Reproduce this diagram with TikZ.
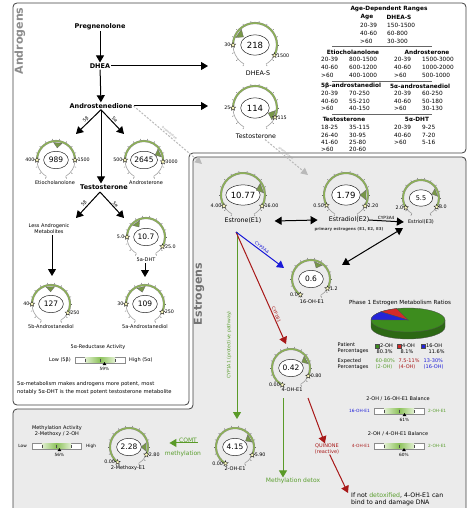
\documentclass[tikz,border=0pt]{standalone}
\usepackage{fontspec}
\setmainfont{DejaVu Sans}
\usetikzlibrary{arrows.meta,shapes.geometric,positioning}

\definecolor{ringgreen}{HTML}{8DB255}
\definecolor{arrowgreen}{HTML}{5A9A28}
\definecolor{txtgreen}{HTML}{5A9E2E}
\definecolor{dred}{HTML}{A81818}
\definecolor{dblue}{HTML}{1A1AD8}
\definecolor{estbg}{HTML}{EBEBEB}
\definecolor{piegreen}{HTML}{3D8C1E}
\definecolor{piegreenside}{HTML}{2C6814}
\definecolor{piered}{HTML}{D42A2A}
\definecolor{pieblue}{HTML}{2424D8}
\definecolor{barlt}{HTML}{E2F0D2}
\definecolor{bardk}{HTML}{8CC25A}

\tikzset{%
  flow/.style={-{Triangle[length=7pt,width=8pt]}, line width=1pt},
  dflow/.style={{Triangle[length=7pt,width=8pt]}-{Triangle[length=7pt,width=8pt]}, line width=1pt},
  gflow/.style={flow, draw=arrowgreen},
  rflow/.style={flow, draw=dred},
  bflow/.style={flow, draw=dblue},
  arom/.style={-{Triangle[length=7pt,width=7pt]}, line width=1pt, gray!55, dash pattern=on 2pt off 1.5pt},
  aromlbl/.style={font=\fontsize{3.5}{4}\selectfont, text=gray!70, inner sep=1pt},
  boxline/.style={draw=black!75, line width=0.8pt, rounded corners=4pt},
  panel/.style={font=\bfseries\fontsize{11}{12}\selectfont, text=black!45, rotate=90},
  hd/.style={font=\bfseries\fontsize{6.5}{7}\selectfont, inner sep=1pt},
  glabel/.style={font=\fontsize{6.3}{7}\selectfont, inner sep=1pt},
  slabel/.style={font=\fontsize{5}{6}\selectfont, inner sep=1pt},
  fanlbl/.style={font=\fontsize{4.5}{5}\selectfont, inner sep=1pt},
  minmax/.style={font=\fontsize{4.8}{5}\selectfont, inner sep=0.5pt},
  tbl/.style={font=\fontsize{5.8}{6}\selectfont, anchor=west, inner sep=0pt},
  tblhd/.style={font=\bfseries\fontsize{5.8}{6}\selectfont, inner sep=0pt},
  tblrule/.style={draw=black!60, line width=0.5pt},
  lgd/.style={font=\fontsize{5}{6}\selectfont, inner sep=0.5pt},
  cyp/.style={font=\fontsize{4.3}{5}\selectfont, inner sep=1pt},
  gtxt/.style={font=\fontsize{6}{7}\selectfont, text=txtgreen, inner sep=0.5pt},
  note/.style={font=\fontsize{5.2}{8.5}\selectfont, inner sep=0pt},
  ring/.style={draw=black!45, double=ringgreen, double distance=1.4pt, line width=0.35pt},
  ringtail/.style={draw=gray!75, line width=0.6pt},
  ringtick/.style={draw=black!60, line width=0.45pt},
  ptr/.style={fill=ringgreen!85!black, draw=black!60, line width=0.3pt},
  mstar/.style={star, star points=5, star point ratio=2.3, draw=black!85, fill=yellow!25, line width=0.35pt, inner sep=0pt, minimum size=5.5pt},
  val/.style={ellipse, draw=black!85, fill=white, line width=0.5pt, inner sep=0pt},
  gauge val/.style={font=\fontsize{7.5}{8}\selectfont},
  bigval/.style={gauge val/.style={font=\fontsize{8.5}{9}\selectfont}},
  smallval/.style={gauge val/.style={font=\fontsize{6.5}{7}\selectfont}},
  sq/.style={draw=black!70, line width=0.3pt, minimum size=4.5pt, inner sep=0pt},
  % value, min, max, min angle, max angle, pointer angle, radius
  pics/gauge/.style n args={7}{code={
    \draw[ringtail] (240:#7) arc[start angle=240, end angle=-60, radius=#7];
    \foreach \a in {240,220,...,-60}
      \draw[ringtick] (\a:#7+0.8pt) -- (\a:#7+2.3pt);
    \draw[ring] (#4:#7) arc[start angle=#4, end angle=#5, radius=#7];
    \node[val, gauge val, minimum width=1.3*#7, minimum height=0.92*#7] (-v) at (0,0) {#1};
    \filldraw[ptr] (#6:0.64*#7) -- ({#6+14}:#7-1.3pt) -- ({#6-14}:#7-1.3pt) -- cycle;
    \node[mstar] (-mn) at (#4:#7) {};
    \node[minmax, anchor=east] (-lo) at (-mn.west) {#2};
    \node[mstar] (-mx) at (#5:#7) {};
    \node[minmax, anchor=west] (-hi) at (-mx.east) {#3};
  }},
  % width, fraction, percent
  pics/actbar/.style n args={3}{code={
    \draw[black!45, line width=0.4pt, fill=white] (0,-3) rectangle (#1,3);
    \shade[left color=barlt, right color=barlt, middle color=bardk] (0.2*#1,-2.6) rectangle (0.8*#1,2.6);
    \foreach \t in {0.2,0.5,0.8}
      \draw[black!70, line width=0.4pt] (\t*#1,-1.5) -- (\t*#1,1.5);
    \fill (#2*#1,2) -- ++(-2,3.2) -- ++(4,0) -- cycle;
    \node[font=\fontsize{4.3}{5}\selectfont, inner sep=0pt] (-p) at (#2*#1,8.5) {#3};
  }}
}

\begin{document}
\begin{tikzpicture}[x=1pt, y=-1pt]
    \useasboundingbox (0,0) rectangle (474,508);

    % panels
    \draw[boxline, fill=white] (13,3) -- (466,3) -- (466,153) -- (189,153) -- (189,405) -- (13,405) -- cycle;
    \draw[boxline, fill=estbg] (193,157) -- (466,157) -- (466,520) -- (13,520) -- (13,409) -- (193,409) -- cycle;
    \node[panel] (andlbl) at (20,41) {Androgens};
    \node[panel, text=black!55] (estlbl) at (199,294) {Estrogens};

    % androgen pathway
    \node[hd] (preg) at (100,27) {Pregnenolone};
    \node[hd] (dhea) at (100,66) {DHEA};
    \node[hd] (adione) at (101,106) {Androstenedione};
    \node[hd] (testost) at (104,187) {Testosterone};
    \coordinate (dheasin) at (208,66);
    \coordinate (testoin) at (208,106);
    \coordinate (etiotip) at (76,134);
    \coordinate (androtip) at (124,134);
    \coordinate (tfan) at (100,192);
    \coordinate (lesstip) at (76,218);
    \coordinate (dhttip) at (124,218);
    \draw[flow] (preg) -- (dhea);
    \draw[flow] (dhea) -- (adione);
    \draw[flow] (dhea) -- (dheasin);
    \draw[flow] (adione) -- (testoin);
    \draw[flow] (adione.south) -- (etiotip) node[fanlbl, pos=0.5, sloped, above] {5β};
    \draw[flow] (adione.south) -- (androtip) node[fanlbl, pos=0.5, sloped, above] {5α};
    \draw[flow] (adione.south) -- (adione.south |- testost.north);
    \draw[flow] (tfan) -- (lesstip) node[fanlbl, pos=0.55, sloped, above] {5β};
    \draw[flow] (tfan) -- (dhttip) node[fanlbl, pos=0.55, sloped, above] {5α};

    \pic[bigval] (dheas) at (255,45) {gauge={218}{30}{1500}{180}{-28}{145}{22pt}};
    \node[glabel] (dheaslbl) at (258,73) {DHEA-S};
    \pic[bigval] (testo) at (255,108) {gauge={114}{25}{115}{180}{-25}{-21}{22pt}};
    \node[glabel] (testolbl) at (256,136) {Testosterone};

    \pic (etio) at (56,160) {gauge={989}{400}{1500}{180}{0}{84}{19pt}};
    \node[slabel] (etiolbl) at (55,183) {Etiocholanolone};
    \pic (andro) at (144,160) {gauge={2645}{500}{3000}{180}{-5}{24}{19pt}};
    \node[slabel] (androlbl) at (146,183) {Androsterone};

    \node[slabel, align=center] (lessandro) at (49,229) {Less Androgenic\\Metabolites};
    \pic (dht) at (146,237) {gauge={10.7}{5.0}{25.0}{180}{-30}{125}{19pt}};
    \node[slabel] (dhtlbl) at (146,260) {5a-DHT};
    \coordinate (bandtop) at (52,276);
    \coordinate (aandtop) at (145,277);
    \draw[flow] (lessandro.south -| bandtop) -- (bandtop);
    \draw[flow] (dhtlbl.south -| aandtop) -- (aandtop);

    \pic (bandiol) at (51,304) {gauge={127}{40}{250}{180}{-28}{92}{19pt}};
    \node[slabel] (bandiollbl) at (51,327) {5b-Androstanediol};
    \pic (aandiol) at (145,304) {gauge={109}{30}{250}{180}{-25}{103}{19pt}};
    \node[slabel] (aandiollbl) at (145,327) {5a-Androstanediol};

    \node[slabel] (redtitle) at (98,347) {5α-Reductase Activity};
    \pic (redbar) at (75,360) {actbar={50}{0.59}{59\%}};
    \node[slabel, anchor=east] (redlow) at (72,360) {Low (5β)};
    \node[slabel, anchor=west] (redhigh) at (128,360) {High (5α)};
    \node[note, anchor=west, align=left] (rednote) at (17,388) {5α-metabolism makes androgens more potent, most\\notably 5α-DHT is the most potent testosterone metabolite};

    % reference ranges
    \node[tblhd] (agehd) at (389,9) {Age-Dependent Ranges};
    \node[tblhd] (agecol) at (367,17) {Age};
    \node[tblhd] (dhscol) at (399,17) {DHEA-S};
    \foreach \y/\a/\r [count=\i] in {25/20-39/150-1500, 33/40-60/60-800, 41/>60/30-300}{
      \node[tbl] (dsa\i) at (360,\y) {\a};
      \node[tbl] (dsr\i) at (387,\y) {\r};
    }
    \draw[tblrule] (332,46) -- (432,46);
    \node[tblhd] (etiohd) at (353,52) {Etiocholanolone};
    \node[tblhd] (androhd) at (427,52) {Androsterone};
    \foreach \y/\a/\r/\b/\s [count=\i] in {59/20-39/800-1500/20-39/1500-3000, 67/40-60/600-1200/40-60/1000-2000, 75/>60/400-1000/>60/500-1000}{
      \node[tbl] (eta\i) at (321,\y) {\a};
      \node[tbl] (etr\i) at (349,\y) {\r};
      \node[tbl] (ana\i) at (394,\y) {\b};
      \node[tbl] (anr\i) at (422,\y) {\s};
    }
    \draw[tblrule] (332,81) -- (432,81);
    \node[tblhd, anchor=west] (bdiolhd) at (321,86) {5β-androstanediol};
    \node[tblhd, anchor=west] (adiolhd) at (390,86) {5α-androstanediol};
    \foreach \y/\a/\r/\b/\s [count=\i] in {93/20-39/70-250/20-39/60-250, 101/40-60/55-210/40-60/50-180, 108/>60/40-150/>60/30-130}{
      \node[tbl] (bda\i) at (321,\y) {\a};
      \node[tbl] (bdr\i) at (349,\y) {\r};
      \node[tbl] (ada\i) at (394,\y) {\b};
      \node[tbl] (adr\i) at (422,\y) {\s};
    }
    \draw[tblrule] (332,114) -- (432,114);
    \node[tblhd] (testhd) at (344,119) {Testosterone};
    \node[tblhd] (dhthd) at (417,119) {5α-DHT};
    \foreach \y/\a/\r/\b/\s [count=\i] in {127/18-25/35-115/20-39/9-25, 135/26-40/30-95/40-60/7-20, 142/41-60/25-80/>60/5-16}{
      \node[tbl] (tsa\i) at (321,\y) {\a};
      \node[tbl] (tsr\i) at (349,\y) {\r};
      \node[tbl] (dha\i) at (394,\y) {\b};
      \node[tbl] (dhr\i) at (422,\y) {\s};
    }
    \node[tbl] (tsa4) at (321,149) {>60};
    \node[tbl] (tsr4) at (349,149) {20-60};

    % aromatase
    \coordinate (arom1tip) at (202,164);
    \coordinate (arom2tip) at (308,175);
    \draw[arom] (adione.east) -- (arom1tip) node[aromlbl, midway, sloped, above] {aromatase};
    \draw[arom] ([xshift=9pt]testolbl.south) -- (arom2tip) node[aromlbl, pos=0.45, sloped, above] {aromatase};

    % estrogens
    \pic[bigval] (eone) at (243,195) {gauge={10.77}{4.00}{16.00}{210}{-30}{20}{22pt}};
    \node[glabel] (eonelbl) at (243,221) {Estrone(E1)};
    \pic[bigval] (ediol) at (346,195) {gauge={1.79}{0.50}{2.20}{208}{-30}{0}{22pt}};
    \node[glabel] (ediollbl) at (349,220) {Estradiol(E2)};
    \node[font=\bfseries\fontsize{4}{5}\selectfont, text=black!75, inner sep=0pt] (primary) at (349,229) {primary estrogens (E1, E2, E3)};
    \pic[smallval] (etriol) at (421,198) {gauge={5.5}{2.0}{8.0}{212}{-30}{20}{18pt}};
    \node[slabel] (etriollbl) at (421,222) {Estriol(E3)};
    \draw[dflow] ([xshift=12pt]eonelbl.east) -- ([xshift=-10pt]ediollbl.west);
    \draw[flow] ([xshift=-2pt]ediollbl.east) -- ([xshift=-3pt]etriollbl.west) node[cyp, midway, above] {CYP3A4};

    \coordinate (e1fork) at (236,232);
    \coordinate (sixtip) at (284,268);
    \coordinate (fourtip) at (286,344);
    \coordinate (twotip) at (237,419);
    \coordinate (e3in) at (403,228);
    \coordinate (sixin) at (342,265);
    \draw[gflow] ([xshift=1pt]e1fork) -- (twotip);
    \draw[rflow] (e1fork) -- (fourtip) node[cyp, text=dred, pos=0.75, sloped, above] {CYP1B1};
    \draw[bflow] (e1fork) -- (sixtip) node[cyp, text=dblue, midway, sloped, above] {CYP3A4};
    \draw[dflow] (sixin) -- (e3in);
    \node[font=\fontsize{4.6}{5}\selectfont, text=txtgreen, rotate=90, inner sep=0pt] (cyp1a1) at (229,345) {CYP1A1 (protective pathway)};

    \pic (ohsix) at (311,279) {gauge={0.6}{0.0}{1.2}{236}{-30}{65}{19pt}};
    \node[slabel] (ohsixlbl) at (312,302) {16-OH-E1};
    \pic (ohfour) at (291,368) {gauge={0.42}{0.00}{0.80}{243}{-25}{28}{19pt}};
    \node[slabel] (ohfourlbl) at (292,390) {4-OH-E1};

    % pie
    \node[lgd, font=\fontsize{5.6}{6}\selectfont] (pietitle) at (400,303) {Phase 1 Estrogen Metabolism Ratios};
    \fill[piegreenside] (371,320) -- (371,327) arc[start angle=180, end angle=360, x radius=37pt, y radius=12pt] -- (445,320) -- cycle;
    \draw[black!70, line width=0.3pt] (371,320) -- (371,327) arc[start angle=180, end angle=360, x radius=37pt, y radius=12pt] -- (445,320);
    \filldraw[fill=piegreen, draw=black!70, line width=0.3pt] (408,320) ellipse[x radius=37pt, y radius=12pt];
    \filldraw[fill=piered, draw=black!70, line width=0.3pt] (408,320) -- ++(108:37pt and 12pt) arc[start angle=108, end angle=137, x radius=37pt, y radius=12pt] -- cycle;
    \filldraw[fill=pieblue, draw=black!70, line width=0.3pt] (408,320) -- ++(137:37pt and 12pt) arc[start angle=137, end angle=179, x radius=37pt, y radius=12pt] -- cycle;

    \node[lgd, anchor=west, align=left, font=\fontsize{5}{6}\selectfont] (patient) at (337,348) {Patient\\Percentages};
    \node[sq, fill=piegreen] (sqg) at (377,346) {};
    \node[lgd, anchor=west] (lg2) at (sqg.east) {2-OH};
    \node[lgd, anchor=west] (pc2) at (376,352) {80.3\%};
    \node[sq, fill=piered] (sqr) at (399,346) {};
    \node[lgd, anchor=west] (lg4) at (sqr.east) {4-OH};
    \node[lgd, anchor=west] (pc4) at (400,352) {8.1\%};
    \node[sq, fill=pieblue] (sqb) at (423,346) {};
    \node[lgd, anchor=west] (lg16) at (sqb.east) {16-OH};
    \node[lgd, anchor=west] (pc16) at (428,352) {11.6\%};
    \node[lgd, anchor=west, align=left] (expect) at (337,364) {Expected\\Percentages};
    \node[lgd, anchor=west, align=left, text=txtgreen] (ex2) at (375,364) {60-80\%\\(2-OH)};
    \node[lgd, anchor=west, align=left, text=dred] (ex4) at (398,364) {7.5-11\%\\(4-OH)};
    \node[lgd, anchor=west, align=left, text=dblue] (ex16) at (423,364) {13-30\%\\(16-OH)};

    % balances
    \node[lgd] (bal1) at (398,399) {2-OH / 16-OH-E1 Balance};
    \pic (bal1bar) at (374,411) {actbar={50}{0.61}{61\%}};
    \node[cyp, text=dblue, anchor=east] (bal1l) at (371,411) {16-OH-E1};
    \node[cyp, text=txtgreen, anchor=west] (bal1r) at (427,411) {2-OH-E1};
    \node[lgd] (bal2) at (398,434) {2-OH / 4-OH-E1 Balance};
    \pic (bal2bar) at (374,446) {actbar={50}{0.60}{60\%}};
    \node[cyp, text=dred, anchor=east] (bal2l) at (371,446) {4-OH-E1};
    \node[cyp, text=txtgreen, anchor=west] (bal2r) at (427,446) {2-OH-E1};

    % 4-OH fate
    \node[lgd, text=dred, align=center, font=\fontsize{5}{5.5}\selectfont] (quinone) at (327,449) {QUINONE\\(reactive)};
    \coordinate (q0) at (308,398);
    \coordinate (dnatip) at (348,493);
    \draw[rflow] (q0) -- (quinone);
    \draw[rflow] (quinone) -- (dnatip);
    \node[anchor=north west, align=left, font=\fontsize{6.2}{7}\selectfont, inner sep=0pt] (dnanote) at (351,493) {If not \textcolor{txtgreen}{detoxified}, 4-OH-E1 can\\bind to and damage DNA};
    \coordinate (md0) at (283,398);
    \node[gtxt] (mdetox) at (293,481) {Methylation detox};
    \draw[gflow] (md0) -- (md0 |- mdetox.north);

    % methylation
    \pic (ohtwo) at (235,447) {gauge={4.15}{0.00}{5.90}{240}{-25}{30}{19pt}};
    \node[slabel] (ohtwolbl) at (235,469) {2-OH-E1};
    \node[gtxt] (comt) at (188,440) {COMT};
    \node[gtxt] (methyl) at (183,454) {methylation};
    \draw[gflow] (comt.south east) -- ([xshift=-9pt]comt.south west);
    \pic (methoxy) at (129,447) {gauge={2.28}{0.00}{2.80}{233}{-24}{0}{19pt}};
    \node[slabel] (methoxylbl) at (128,468) {2-Methoxy-E1};

    \node[lgd, align=center] (mettitle) at (57,431) {Methylation Activity\\2-Methoxy / 2-OH};
    \pic (metbar) at (32,446) {actbar={49}{0.56}{56\%}};
    \node[cyp, anchor=east] (metlow) at (28,446) {Low};
    \node[cyp, anchor=west] (methigh) at (85,446) {High};
\end{tikzpicture}
\end{document}
